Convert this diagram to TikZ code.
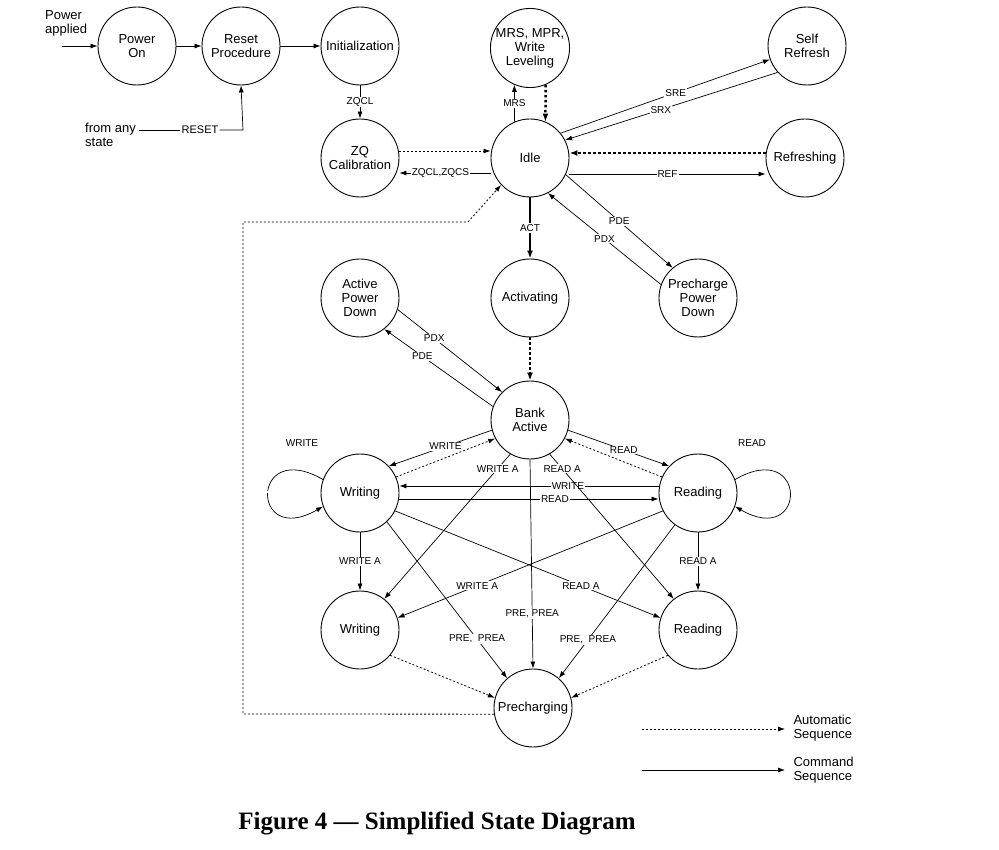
\documentclass[tikz,border=0pt]{standalone}
\usepackage{fontspec}
\setmainfont{Liberation Sans}
\newfontfamily\capfont{Liberation Serif}
\usetikzlibrary{arrows.meta}
\begin{document}
\begin{tikzpicture}[x=1pt,y=-1pt,
  st/.style={circle,draw,line width=0.9pt,minimum size=78pt,inner sep=0pt,align=center,font=\fontsize{13}{14}\selectfont},
  cmd/.style={-{Latex[length=7pt,width=5pt]},line width=0.7pt},
  aut/.style={-{Latex[length=7pt,width=5pt]},line width=0.8pt,dash pattern=on 2pt off 2pt},
  tcmd/.style={-{Latex[length=8pt,width=6pt]},line width=2pt},
  taut/.style={-{Latex[length=8pt,width=6pt]},line width=2.5pt,dash pattern=on 2.5pt off 2.5pt},
  lb/.style={fill=white,inner sep=1pt,font=\fontsize{10}{11}\selectfont},
  txt/.style={font=\fontsize{13}{14}\selectfont,align=left}]
\useasboundingbox (0,0) rectangle (999,850);
\node[st] (pon) at (137,46) {Power\\On};
\node[st] (rst) at (241,46) {Reset\\Procedure};
\node[st] (ini) at (360,46) {Initialization};
\node[st] (mrs) at (530,48) {MRS, MPR,\\Write\\Leveling};
\node[st] (sr) at (807,46) {Self\\Refresh};
\node[st] (zq) at (360,158) {ZQ\\Calibration};
\node[st] (idle) at (530,158) {Idle};
\node[st] (ref) at (805,158) {Refreshing};
\node[st] (act) at (530,298) {Activating};
\node[st] (ppd) at (698,298) {Precharge\\Power\\Down};
\node[st] (apd) at (360,298) {Active\\Power\\Down};
\node[st] (bank) at (530,420) {Bank\\Active};
\node[st] (wr) at (360,493) {Writing};
\node[st] (rd) at (698,493) {Reading};
\node[st] (wra) at (360,630) {Writing};
\node[st] (rda) at (698,630) {Reading};
\node[st] (pre) at (533,708) {Precharging};

\node[txt,anchor=south west,inner sep=0pt] (pa) at (45,36) {Power\\applied};
\coordinate (pas) at (62,46);
\draw[cmd] (pas) -- (pon);
\draw[cmd] (pon) -- (rst);
\draw[cmd] (rst) -- (ini);
\node[txt,anchor=north west,inner sep=0pt] (fa) at (85,123) {from any\\state};
\node[lb,font=\fontsize{11}{12}\selectfont] (rl) at (200,130) {RESET};
\coordinate (rc) at (243,130);
\draw[line width=0.7pt] (fa.north east)++(3,7) -- (rl.west);
\draw[cmd] (rl.east) -- (rc) -- (rst.south);

\draw[cmd] (ini) -- node[lb]{ZQCL} (zq);
\draw[cmd] ([yshift=-15pt]idle.west) -- node[lb,pos=0.55]{ZQCL,ZQCS} ([yshift=-15pt]zq.east);
\draw[aut] ([yshift=7pt]zq.east) -- ([yshift=7pt]idle.west);
\draw[cmd] (idle.113) -- node[lb]{MRS} (mrs.247);
\draw[taut] (mrs.293) -- (idle.67);
\draw[cmd] (idle.39) -- node[lb,pos=0.55]{SRE} (sr.200);
\draw[cmd] (sr.222) -- node[lb,pos=0.55]{SRX} (idle.27);
\draw[cmd] ([yshift=-16pt]idle.east) -- node[lb]{REF} ([yshift=-16pt]ref.west);
\draw[taut] ([yshift=5pt]ref.west) -- ([yshift=5pt]idle.east);
\draw[tcmd] (idle) -- node[lb]{ACT} (act);
\draw[cmd] (idle.-25) -- node[lb]{PDE} (ppd.130);
\draw[cmd] (ppd.160) -- node[lb]{PDX} (idle.-63);
\draw[taut] (act) -- (bank);
\draw[cmd] (apd.-17) -- node[lb,pos=0.35]{PDX} (bank.135);
\draw[cmd] (bank.160) -- node[lb,pos=0.65]{PDE} (apd.-52);
\draw[cmd] (bank.195) -- node[lb,pos=0.45]{WRITE} (wr.43);
\draw[aut] (wr.24) -- (bank.208);
\draw[cmd] (bank.-15) -- node[lb,pos=0.55]{READ} (rd.137);
\draw[aut] (rd.156) -- (bank.-28);
\draw[cmd] (wr.160) to[out=150,in=210,looseness=8] node[lb,pos=0.5,above]{} (wr.200);
\node[lb] at (302,443) {WRITE};
\draw[cmd] (rd.20) to[out=30,in=-30,looseness=8] (rd.-20);
\node[lb] at (752,443) {READ};
\draw[cmd] ([yshift=-6pt]wr.east) -- node[lb,pos=0.6]{READ} ([yshift=-6pt]rd.west);
\draw[cmd] ([yshift=7pt]rd.west) -- node[lb,pos=0.35]{WRITE} ([yshift=7pt]wr.east);
\draw[cmd] (bank.-120) -- node[lb,pos=0.1]{WRITE A} (wra.52);
\draw[cmd] (bank.-60) -- node[lb,pos=0.1]{READ A} (rda.128);
\draw[cmd] (bank.-90) -- node[lb,pos=0.74]{PRE, PREA} (pre.90);
\draw[cmd] (wr) -- node[lb]{WRITE A} (wra);
\draw[cmd] (rd) -- node[lb]{READ A} (rda);
\draw[cmd] (wr.-27) -- node[lb,pos=0.7]{READ A} (rda.162);
\draw[cmd] (rd.207) -- node[lb,pos=0.7]{WRITE A} (wra.18);
\draw[cmd] (wr.-47) -- node[lb,pos=0.75]{PRE,\ \ PREA} (pre.131);
\draw[cmd] (rd.234) -- node[lb,pos=0.75]{PRE,\ \ PREA} (pre.49);
\draw[aut] (wra.-40) -- (pre.165);
\draw[aut] (rda.220) -- (pre.15);
\coordinate (c1) at (243,714);
\coordinate (c2) at (243,222);
\coordinate (c3) at (468,222);
\draw[aut] (pre.189) -- (c1) -- (c2) -- (c3) -- (idle.223);

\coordinate (l1) at (642,729); \coordinate (l2) at (785,729);
\coordinate (l3) at (642,770); \coordinate (l4) at (785,770);
\draw[aut] (l1) -- (l2);
\draw[cmd] (l3) -- (l4);
\node[txt,anchor=west] (la) at (790,728) {Automatic\\Sequence};
\node[txt,anchor=west] (lc) at (790,770) {Command\\Sequence};
\node[font=\capfont\bfseries\fontsize{25}{28}\selectfont] (cap) at (437,823) {Figure 4 — Simplified State Diagram};
\end{tikzpicture}
\end{document}
